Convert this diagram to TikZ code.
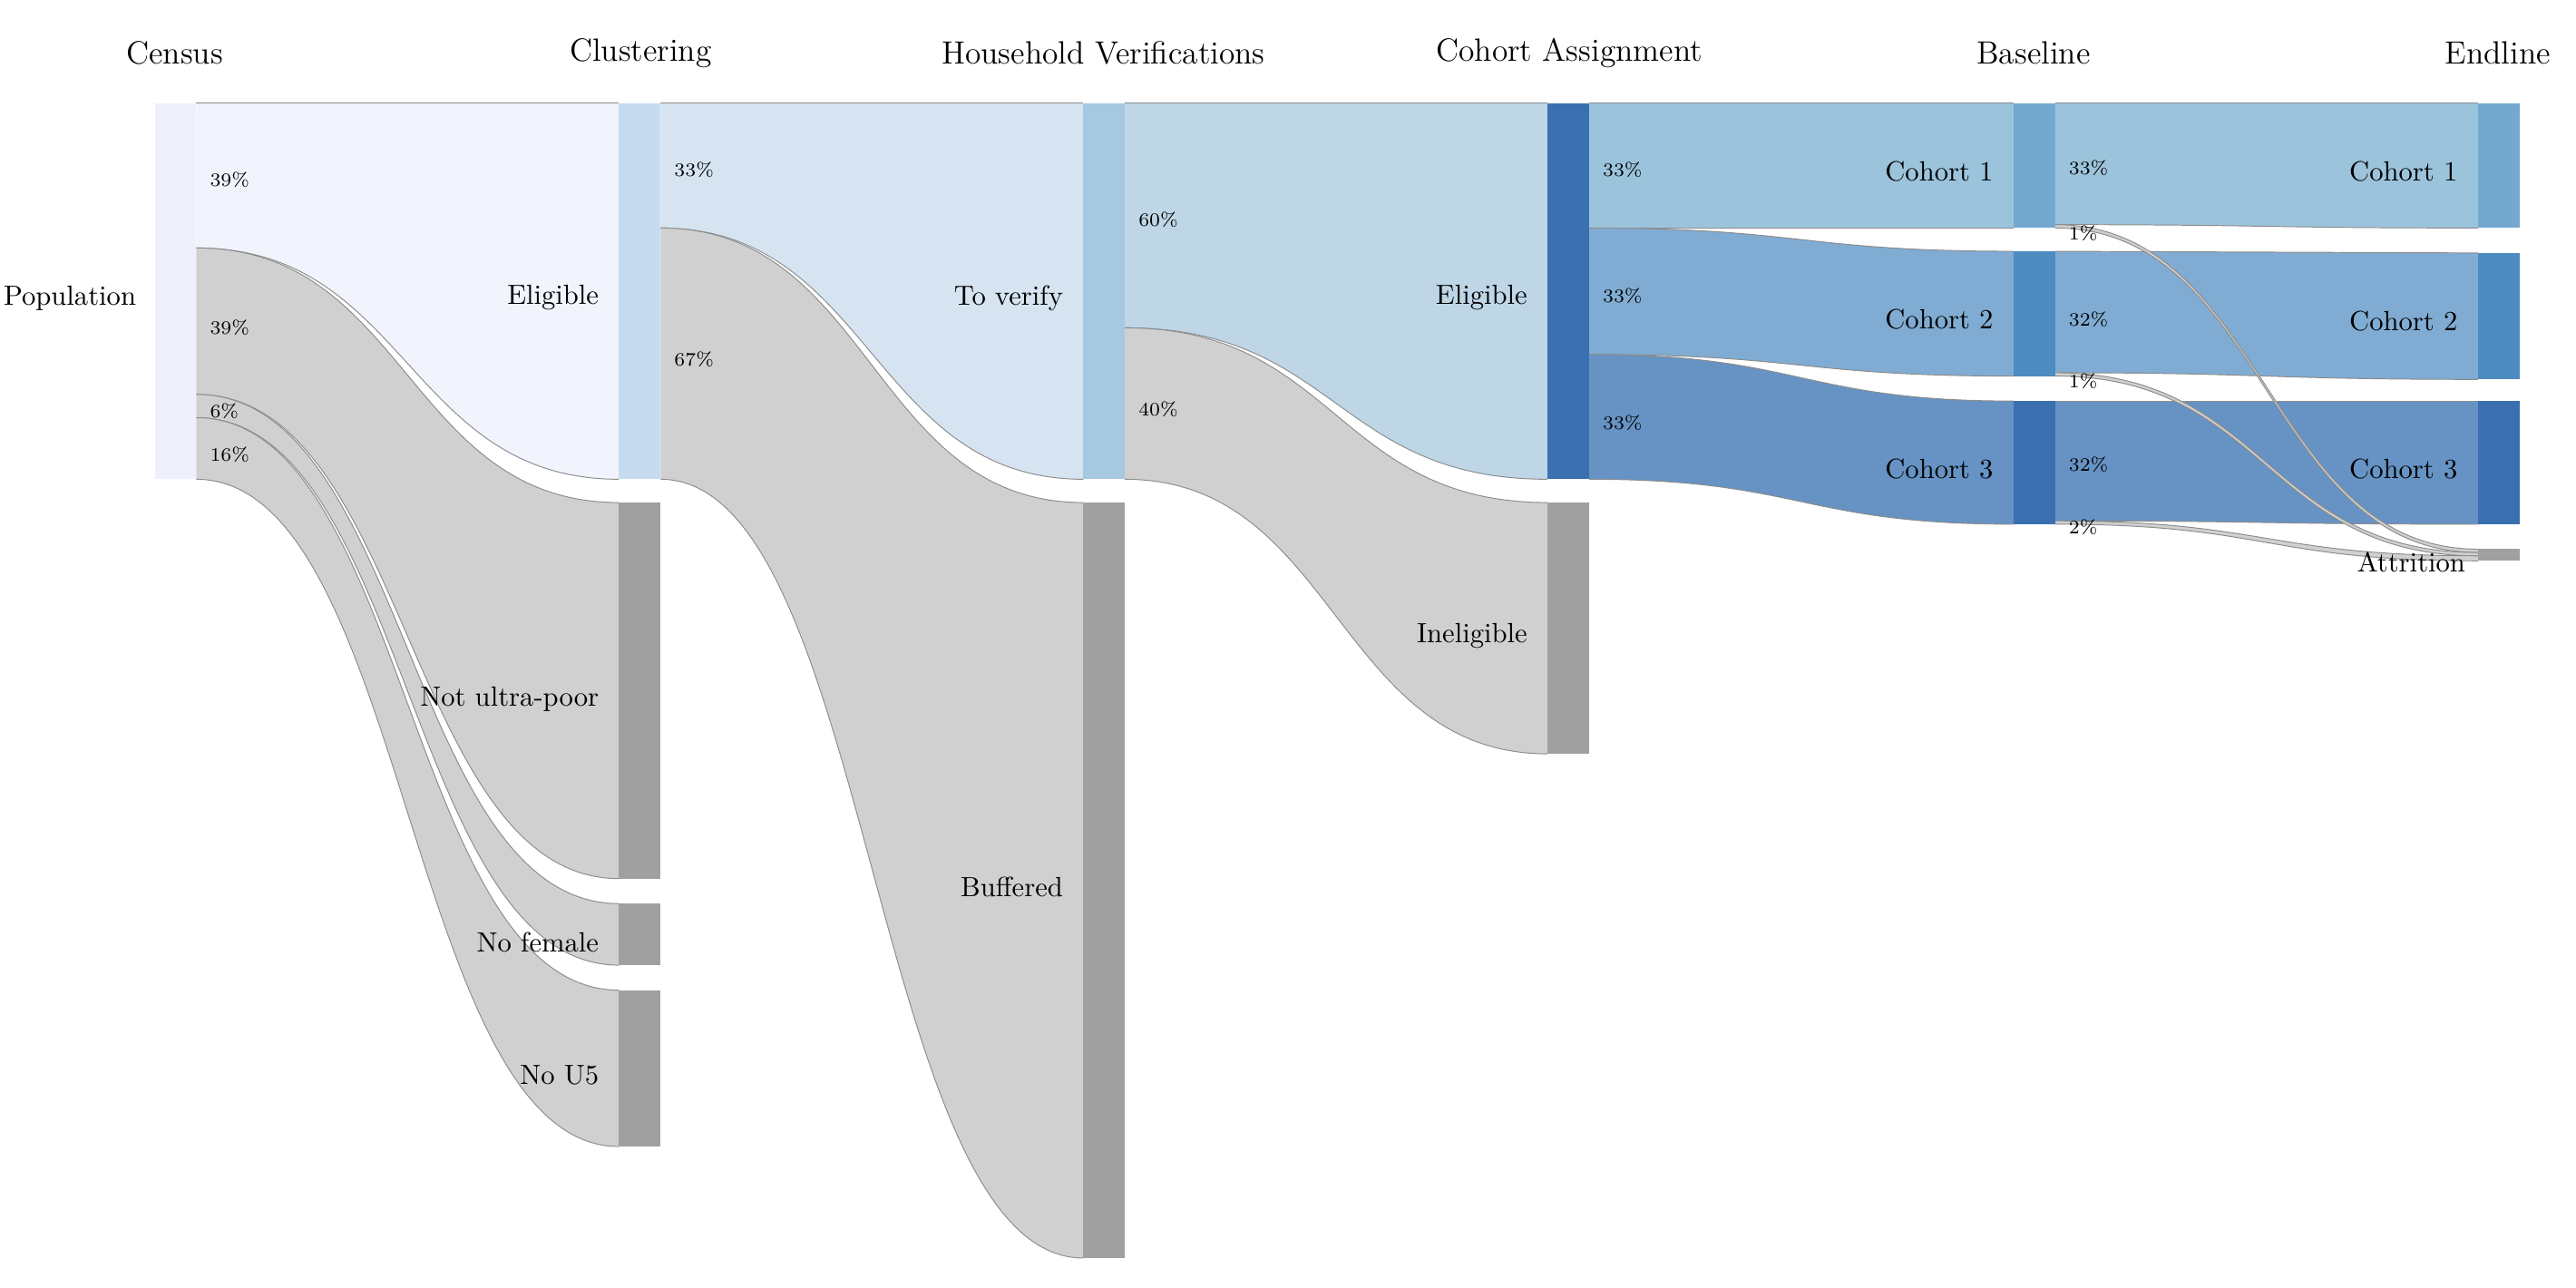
\documentclass[tikz,border=0pt]{standalone}
\usepackage{tikz}
\usetikzlibrary{positioning}

\definecolor{censusC}{HTML}{EEF0FC}
\definecolor{clustC}{HTML}{C6DBEF}
\definecolor{verifC}{HTML}{A6C8E0}
\definecolor{darkC}{HTML}{3A70B0}
\definecolor{midC}{HTML}{4E8BC0}
\definecolor{lightC}{HTML}{74A9CF}
\definecolor{barGray}{HTML}{A0A0A0}
\definecolor{flowGray}{HTML}{D0D0D0}
\definecolor{fCensus}{HTML}{F1F4FD}
\definecolor{fClust}{HTML}{D6E4F1}
\definecolor{fVerif}{HTML}{BED6E6}
\definecolor{fOne}{HTML}{9CC3DC}
\definecolor{fTwo}{HTML}{80ACD3}
\definecolor{fThree}{HTML}{6693C4}

\tikzset{
  title/.style={font=\fontsize{11}{13}\selectfont},
  lbl/.style={font=\fontsize{9.5}{11}\selectfont, anchor=east},
  pct/.style={font=\fontsize{6.5}{8}\selectfont, anchor=west},
  edge/.style={draw=black!45, line width=0.3pt}
}

% flow: x1, top1, bot1, x2, top2, bot2, colour
\newcommand{\flow}[7]{%
  \fill[#7] (#1,#2) .. controls ({(#1+#4)/2},#2) and ({(#1+#4)/2},#5) .. (#4,#5)
    -- (#4,#6) .. controls ({(#1+#4)/2},#6) and ({(#1+#4)/2},#3) .. (#1,#3) -- cycle;
  \draw[edge] (#1,#2) .. controls ({(#1+#4)/2},#2) and ({(#1+#4)/2},#5) .. (#4,#5);
  \draw[edge] (#1,#3) .. controls ({(#1+#4)/2},#3) and ({(#1+#4)/2},#6) .. (#4,#6);
}
% stage bar: x, top, bottom, colour
\newcommand{\stagebar}[4]{\fill[#4] (#1,#2) rectangle ({#1+25},#3);}

\begin{document}
\begin{tikzpicture}[x=0.02cm, y=-0.02cm]
  \useasboundingbox (0,0) rectangle (1548,774);

  % flows
  \flow{118}{62}{149}{372}{62}{288}{fCensus}
  \flow{118}{149}{237}{372}{302}{528}{flowGray}
  \flow{118}{237}{251}{372}{543}{580}{flowGray}
  \flow{118}{251}{288}{372}{595}{689}{flowGray}
  \flow{397}{62}{137}{651}{62}{288}{fClust}
  \flow{397}{137}{288}{651}{302}{756}{flowGray}
  \flow{676}{62}{197}{930}{62}{288}{fVerif}
  \flow{676}{197}{288}{930}{302}{453}{flowGray}
  \flow{955}{62}{137}{1210}{62}{137}{fOne}
  \flow{955}{137}{213}{1210}{151}{226}{fTwo}
  \flow{955}{213}{288}{1210}{241}{315}{fThree}
  \flow{1235}{62}{135}{1489}{62}{137}{fOne}
  \flow{1235}{151}{224}{1489}{152}{228}{fTwo}
  \flow{1235}{241}{313}{1489}{241}{315}{fThree}
  \flow{1235}{135}{137}{1489}{330}{332}{flowGray}
  \flow{1235}{224}{226}{1489}{332}{334}{flowGray}
  \flow{1235}{313}{315}{1489}{334}{337}{flowGray}

  % bars
  \stagebar{93}{62}{288}{censusC}
  \stagebar{372}{62}{288}{clustC}
  \stagebar{372}{302}{528}{barGray}
  \stagebar{372}{543}{580}{barGray}
  \stagebar{372}{595}{689}{barGray}
  \stagebar{651}{62}{288}{verifC}
  \stagebar{651}{302}{756}{barGray}
  \stagebar{930}{62}{288}{darkC}
  \stagebar{930}{302}{453}{barGray}
  \stagebar{1210}{62}{137}{lightC}
  \stagebar{1210}{151}{226}{midC}
  \stagebar{1210}{241}{315}{darkC}
  \stagebar{1489}{62}{137}{lightC}
  \stagebar{1489}{152}{228}{midC}
  \stagebar{1489}{241}{315}{darkC}
  \stagebar{1489}{330}{337}{barGray}

  % column titles
  \foreach \x/\t in {105/Census, 385/Clustering, 663/Household Verifications,
                     943/Cohort Assignment, 1222/Baseline, 1501/Endline}
    \node[title] at (\x,32) {\t};

  % node labels
  \node[lbl] (population) at (88,179) {Population};
  \node[lbl] (eligibleA) at (366,179) {Eligible};
  \node[lbl] (notpoor) at (366,420) {Not ultra-poor};
  \node[lbl] (nofemale) at (366,566) {No female};
  \node[lbl] (nou5) at (366,646) {No U5};
  \node[lbl] (toverify) at (645,179) {To verify};
  \node[lbl] (buffered) at (645,533) {Buffered};
  \node[lbl] (eligibleB) at (924,179) {Eligible};
  \node[lbl] (ineligible) at (924,382) {Ineligible};
  \node[lbl] (baseOne) at (1204,103) {Cohort 1};
  \node[lbl] (baseTwo) at (1204,192) {Cohort 2};
  \node[lbl] (baseThree) at (1204,282) {Cohort 3};
  \node[lbl] (endOne) at (1483,103) {Cohort 1};
  \node[lbl] (endTwo) at (1483,193) {Cohort 2};
  \node[lbl] (endThree) at (1483,282) {Cohort 3};
  \node[font=\fontsize{9.5}{11}\selectfont] (attrition) at (1449,338) {Attrition};

  % percentages
  \foreach \x/\y/\p in {120/108/39\%, 120/197/39\%, 120/247/6\%, 120/273/16\%,
                        399/102/33\%, 399/216/67\%, 678/132/60\%, 678/246/40\%,
                        957/102/33\%, 957/178/33\%, 957/254/33\%,
                        1237/101/33\%, 1237/140/1\%, 1237/192/32\%, 1237/229/1\%,
                        1237/279/32\%, 1237/317/2\%}
    \node[pct] at (\x,\y) {\p};
\end{tikzpicture}
\end{document}
